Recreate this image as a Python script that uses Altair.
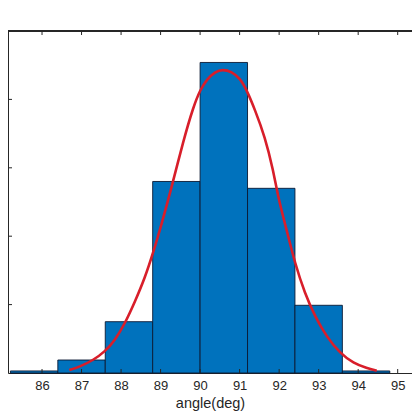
import altair as alt
import pandas as pd

# Histogram (probability normalisation), bin edges and heights
bin_left = [85.2, 86.4, 87.6, 88.8, 90.0, 91.2, 92.4, 93.6]
bin_right = [86.4, 87.6, 88.8, 90.0, 91.2, 92.4, 93.6, 94.8]
bin_height = [0.003, 0.019, 0.075, 0.280, 0.454, 0.270, 0.099, 0.003]

# Fitted curve, points
curve_x = [86.69, 86.96, 87.30, 87.59, 87.85, 88.10, 88.35, 88.60, 88.82, 89.03,
           89.24, 89.58, 89.83, 90.00, 90.17, 90.38, 90.57, 90.80, 91.01, 91.18,
           91.39, 91.64, 91.85, 91.98, 92.19, 92.40, 92.65, 92.91, 93.20, 93.54,
           93.88, 94.22, 94.47]
curve_y = [0.0044, 0.0092, 0.0190, 0.0311, 0.0482, 0.0727, 0.1042, 0.1385, 0.1773, 0.2189,
           0.2627, 0.3406, 0.3893, 0.4137, 0.4294, 0.4405, 0.4440, 0.4405, 0.4308, 0.4137,
           0.3845, 0.3455, 0.2968, 0.2550, 0.2091, 0.1604, 0.1165, 0.0823, 0.0531, 0.0288,
           0.0142, 0.0069, 0.0034]

x_ticks = [85, 86, 87, 88, 89, 90, 91, 92, 93, 94, 95]
y_ticks = [0.1, 0.2, 0.3, 0.4]

x_title = "angle(deg)"

# plot area starts at page x=8 (data 85.139) and runs to the window's right margin
W = 404
H = 342
AX = "#262626"

xscale = alt.Scale(domain=[85.139, 95.362], nice=False, zero=False)
yscale = alt.Scale(domain=[0, 0.5], nice=False)

hist_df = pd.DataFrame({"x0": bin_left, "x1": bin_right, "h": bin_height})
curve_df = pd.DataFrame({"x": curve_x, "y": curve_y})
xt_df = pd.DataFrame({"t": x_ticks})
yt_df = pd.DataFrame({"t": y_ticks})

bars = alt.Chart(hist_df).mark_rect(
    color="#0072BD", stroke="#0B1A33", strokeWidth=0.9
).encode(
    x=alt.X("x0:Q", scale=xscale,
            axis=alt.Axis(values=x_ticks, title=x_title, ticks=False, grid=False,
                          domainColor=AX, domainWidth=1, labelColor=AX, titleColor=AX,
                          labelFont="Liberation Sans", titleFont="Liberation Sans",
                          labelFontSize=13, titleFontSize=14.5, titleFontWeight="normal",
                          labelPadding=6, titlePadding=4, format="d",
                          labelOverlap=False, labelBound=False, labelFlush=False)),
    x2="x1:Q",
    y=alt.Y("h:Q", scale=yscale,
            axis=alt.Axis(values=y_ticks, title=None, labels=False, ticks=False,
                          grid=False, domainColor=AX, domainWidth=1)),
    y2=alt.datum(0),
)

curve = alt.Chart(curve_df).mark_line(
    color="#D81E2A", strokeWidth=2.6, interpolate="basis"
).encode(
    x=alt.X("x:Q", scale=xscale),
    y=alt.Y("y:Q", scale=yscale),
)

top_line = alt.Chart(xt_df).mark_rule(color=AX, strokeWidth=1).encode(
    x=alt.value(0), x2=alt.value(W), y=alt.value(0)
)

x_ticks_bottom = alt.Chart(xt_df).mark_rule(color=AX, strokeWidth=1).encode(
    x=alt.X("t:Q", scale=xscale), y=alt.value(H), y2=alt.value(H - 4)
)
x_ticks_top = alt.Chart(xt_df).mark_rule(color=AX, strokeWidth=1).encode(
    x=alt.X("t:Q", scale=xscale), y=alt.value(0), y2=alt.value(4)
)
y_ticks_left = alt.Chart(yt_df).mark_rule(color=AX, strokeWidth=1).encode(
    y=alt.Y("t:Q", scale=yscale), x=alt.value(0), x2=alt.value(4)
)

chart = alt.layer(
    bars, curve, top_line, x_ticks_bottom, x_ticks_top, y_ticks_left
).properties(
    width=W, height=H,
    autosize=alt.AutoSizeParams(type="none"),
    padding={"left": 0, "top": 23, "right": 0, "bottom": 38},
).configure_view(stroke=None).configure(background="white")

chart.save("out.html", embed_options={"renderer": "svg", "actions": False})
